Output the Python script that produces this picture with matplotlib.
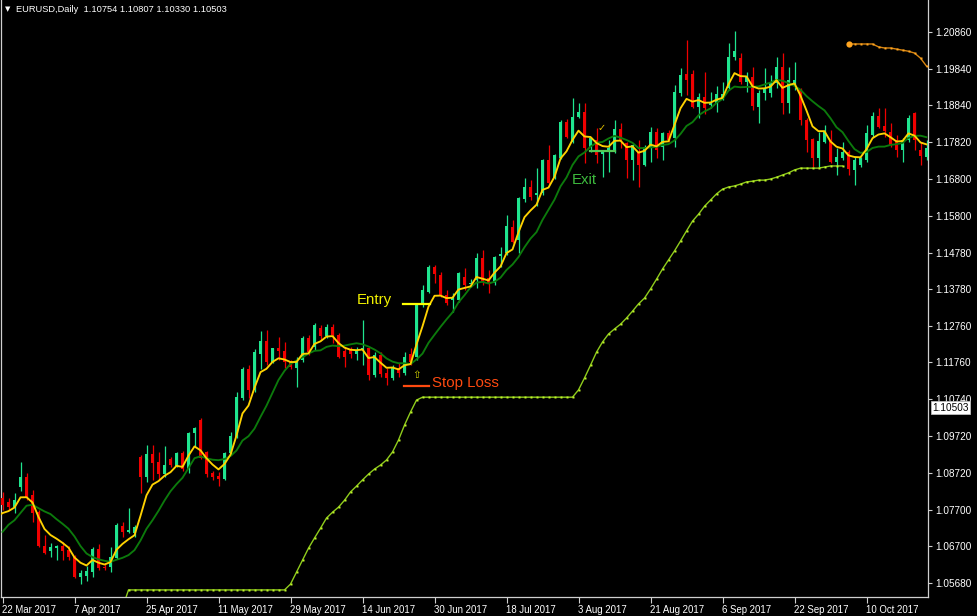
import numpy as np
import pandas as pd
import matplotlib
matplotlib.use("Agg")
import matplotlib.pyplot as plt
from matplotlib.patches import Rectangle
from matplotlib.collections import PatchCollection, LineCollection
import matplotlib.transforms as mtransforms

# ---------------- data ----------------
chart_title = "EURUSD,Daily"
last_bar_values = ["1.10754", "1.10807", "1.10330", "1.10503"]
last_price = 1.10503
start_date = "2017-03-22"

open_ = [1.0802, 1.0791, 1.0777, 1.0832, 1.0860, 1.0810, 1.0763, 1.0670, 1.0656, 1.0664,
         1.0670, 1.0659, 1.0639, 1.0584, 1.0587, 1.0598, 1.0662, 1.0612, 1.0612, 1.0637,
         1.0725, 1.0708, 1.0706, 1.0915, 1.0860, 1.0923, 1.0901, 1.0868, 1.0909, 1.0890,
         1.0926, 1.0882, 1.0981, 1.1017, 1.0929, 1.0871, 1.0863, 1.0854, 1.0926, 1.0970,
         1.1077, 1.1157, 1.1100, 1.1200, 1.1235, 1.1177, 1.1215, 1.1207, 1.1177, 1.1160,
         1.1182, 1.1243, 1.1218, 1.1270, 1.1248, 1.1273, 1.1251, 1.1207, 1.1210, 1.1199,
         1.1213, 1.1215, 1.1141, 1.1196, 1.1146, 1.1133, 1.1160, 1.1146, 1.1199, 1.1191,
         1.1334, 1.1370, 1.1438, 1.1416, 1.1361, 1.1348, 1.1348, 1.1411, 1.1392, 1.1403,
         1.1463, 1.1408, 1.1394, 1.1469, 1.1477, 1.1549, 1.1513, 1.1626, 1.1659, 1.1637,
         1.1642, 1.1733, 1.1684, 1.1739, 1.1838, 1.1783, 1.1852, 1.1865, 1.1769, 1.1788,
         1.1750, 1.1755, 1.1755, 1.1819, 1.1780, 1.1733, 1.1755, 1.1719, 1.1769, 1.1810,
         1.1769, 1.1808, 1.1794, 1.1918, 1.1970, 1.1970, 1.1879, 1.1907, 1.1885, 1.1890,
         1.1904, 1.1932, 1.2017, 1.2014, 1.1948, 1.1962, 1.1879, 1.1918, 1.1918, 1.1945,
         1.1989, 1.1890, 1.1940, 1.1926, 1.1843, 1.1791, 1.1739, 1.1783, 1.1788, 1.1728,
         1.1739, 1.1755, 1.1706, 1.1719, 1.1733, 1.1802, 1.1854, 1.1827, 1.1810, 1.1788,
         1.1761, 1.1788, 1.1863, 1.1761, 1.1741]
high = [1.0819, 1.0802, 1.0816, 1.0901, 1.0871, 1.0824, 1.0769, 1.0700, 1.0678, 1.0673,
        1.0681, 1.0670, 1.0645, 1.0604, 1.0615, 1.0667, 1.0675, 1.0623, 1.0667, 1.0733,
        1.0736, 1.0775, 1.0728, 1.0921, 1.0948, 1.0948, 1.0929, 1.0945, 1.0915, 1.0929,
        1.0932, 1.0984, 1.0998, 1.1022, 1.0932, 1.0876, 1.0874, 1.0929, 1.0984, 1.1094,
        1.1163, 1.1168, 1.1213, 1.1262, 1.1265, 1.1215, 1.1246, 1.1232, 1.1182, 1.1191,
        1.1248, 1.1251, 1.1284, 1.1279, 1.1281, 1.1281, 1.1257, 1.1218, 1.1218, 1.1218,
        1.1292, 1.1218, 1.1204, 1.1204, 1.1160, 1.1168, 1.1174, 1.1204, 1.1215, 1.1339,
        1.1389, 1.1444, 1.1444, 1.1425, 1.1375, 1.1367, 1.1425, 1.1436, 1.1405, 1.1477,
        1.1485, 1.1430, 1.1469, 1.1494, 1.1582, 1.1568, 1.1631, 1.1684, 1.1678, 1.1711,
        1.1736, 1.1775, 1.1750, 1.1843, 1.1846, 1.1904, 1.1890, 1.1890, 1.1797, 1.1821,
        1.1761, 1.1788, 1.1843, 1.1835, 1.1783, 1.1778, 1.1788, 1.1775, 1.1824, 1.1821,
        1.1811, 1.1816, 1.1940, 1.1987, 1.2064, 1.1981, 1.1918, 1.1976, 1.1921, 1.1937,
        1.1948, 1.2056, 1.2089, 1.2028, 1.1976, 1.1989, 1.1926, 1.1987, 1.1967, 1.2017,
        1.2028, 1.1989, 1.2003, 1.1932, 1.1849, 1.1794, 1.1810, 1.1830, 1.1816, 1.1766,
        1.1783, 1.1761, 1.1741, 1.1741, 1.1830, 1.1865, 1.1876, 1.1876, 1.1835, 1.1802,
        1.1794, 1.1857, 1.1865, 1.1783, 1.1788]
low = [1.0769, 1.0769, 1.0761, 1.0821, 1.0796, 1.0736, 1.0667, 1.0648, 1.0639, 1.0631,
       1.0631, 1.0631, 1.0582, 1.0565, 1.0573, 1.0584, 1.0604, 1.0604, 1.0598, 1.0634,
       1.0695, 1.0706, 1.0695, 1.0816, 1.0846, 1.0852, 1.0852, 1.0860, 1.0887, 1.0887,
       1.0876, 1.0871, 1.0943, 1.0909, 1.0860, 1.0852, 1.0835, 1.0852, 1.0921, 1.0967,
       1.1072, 1.1077, 1.1094, 1.1157, 1.1168, 1.1174, 1.1182, 1.1160, 1.1157, 1.1108,
       1.1177, 1.1196, 1.1210, 1.1237, 1.1243, 1.1229, 1.1188, 1.1163, 1.1188, 1.1182,
       1.1168, 1.1127, 1.1135, 1.1135, 1.1113, 1.1127, 1.1135, 1.1141, 1.1168, 1.1182,
       1.1328, 1.1367, 1.1394, 1.1356, 1.1334, 1.1314, 1.1342, 1.1375, 1.1383, 1.1381,
       1.1389, 1.1367, 1.1389, 1.1438, 1.1471, 1.1505, 1.1477, 1.1618, 1.1623, 1.1607,
       1.1637, 1.1667, 1.1681, 1.1736, 1.1794, 1.1780, 1.1849, 1.1725, 1.1755, 1.1725,
       1.1686, 1.1700, 1.1752, 1.1766, 1.1684, 1.1678, 1.1659, 1.1717, 1.1728, 1.1739,
       1.1733, 1.1783, 1.1769, 1.1910, 1.1912, 1.1876, 1.1849, 1.1860, 1.1876, 1.1865,
       1.1898, 1.1926, 1.2009, 1.1943, 1.1921, 1.1871, 1.1835, 1.1898, 1.1907, 1.1932,
       1.1860, 1.1863, 1.1926, 1.1830, 1.1755, 1.1714, 1.1714, 1.1780, 1.1725, 1.1692,
       1.1733, 1.1692, 1.1664, 1.1714, 1.1728, 1.1797, 1.1821, 1.1797, 1.1769, 1.1741,
       1.1728, 1.1783, 1.1761, 1.1719, 1.1733]
close = [1.0783, 1.0777, 1.0796, 1.0860, 1.0805, 1.0761, 1.0670, 1.0651, 1.0667, 1.0670,
         1.0656, 1.0639, 1.0584, 1.0595, 1.0601, 1.0662, 1.0609, 1.0609, 1.0639, 1.0728,
         1.0708, 1.0714, 1.0722, 1.0860, 1.0923, 1.0898, 1.0868, 1.0893, 1.0893, 1.0926,
         1.0882, 1.0981, 1.0995, 1.0912, 1.0868, 1.0860, 1.0854, 1.0926, 1.0973, 1.1080,
         1.1157, 1.1100, 1.1204, 1.1235, 1.1177, 1.1215, 1.1207, 1.1177, 1.1163, 1.1177,
         1.1243, 1.1204, 1.1279, 1.1248, 1.1273, 1.1251, 1.1191, 1.1191, 1.1199, 1.1207,
         1.1215, 1.1141, 1.1196, 1.1144, 1.1133, 1.1163, 1.1146, 1.1191, 1.1177, 1.1334,
         1.1375, 1.1438, 1.1419, 1.1361, 1.1339, 1.1356, 1.1422, 1.1389, 1.1394, 1.1463,
         1.1397, 1.1392, 1.1466, 1.1474, 1.1551, 1.1507, 1.1629, 1.1659, 1.1631, 1.1642,
         1.1733, 1.1670, 1.1747, 1.1838, 1.1797, 1.1852, 1.1865, 1.1766, 1.1794, 1.1747,
         1.1755, 1.1766, 1.1819, 1.1788, 1.1733, 1.1775, 1.1719, 1.1769, 1.1810, 1.1761,
         1.1808, 1.1788, 1.1921, 1.1967, 1.1954, 1.1879, 1.1907, 1.1876, 1.1893, 1.1915,
         1.1915, 1.2017, 1.2034, 1.1948, 1.1962, 1.1882, 1.1918, 1.1932, 1.1945, 1.1989,
         1.1890, 1.1954, 1.1954, 1.1843, 1.1788, 1.1739, 1.1786, 1.1813, 1.1728, 1.1741,
         1.1755, 1.1708, 1.1733, 1.1739, 1.1808, 1.1854, 1.1824, 1.1813, 1.1775, 1.1761,
         1.1788, 1.1849, 1.1788, 1.1744, 1.1766]
# closes of the days before the first visible bar (feed the moving averages)
prior_closes = [1.0580, 1.0671, 1.0660, 1.0605, 1.0734, 1.0765, 1.0740, 1.0740, 1.0810]

# trailing stop (long side), first value belongs to bar 20
trail_long_first_bar = 20
trail_long = [1.0500,
              1.0549, 1.0549, 1.0549, 1.0549, 1.0549, 1.0549, 1.0549, 1.0549, 1.0549, 1.0549,
              1.0549, 1.0549, 1.0549, 1.0549, 1.0549, 1.0549, 1.0549, 1.0549, 1.0549, 1.0549,
              1.0549, 1.0549, 1.0549, 1.0549, 1.0549, 1.0549, 1.0549,
              1.0565, 1.0598, 1.0631, 1.0664, 1.0692, 1.0719, 1.0747, 1.0763, 1.0777, 1.0796,
              1.0819, 1.0835, 1.0852, 1.0868, 1.0882, 1.0893, 1.0907, 1.0929, 1.0962, 1.1003,
              1.1039, 1.1072,
              1.1080, 1.1080, 1.1080, 1.1080, 1.1080, 1.1080, 1.1080, 1.1080, 1.1080, 1.1080,
              1.1080, 1.1080, 1.1080, 1.1080, 1.1080, 1.1080, 1.1080, 1.1080, 1.1080, 1.1080,
              1.1080, 1.1080, 1.1080, 1.1080, 1.1080, 1.1080,
              1.1100, 1.1133, 1.1168, 1.1204, 1.1232, 1.1254, 1.1268, 1.1281, 1.1298, 1.1317,
              1.1337, 1.1353, 1.1378, 1.1405, 1.1433, 1.1458, 1.1483, 1.1510, 1.1538, 1.1565,
              1.1584, 1.1606, 1.1623, 1.1640, 1.1653, 1.1659, 1.1662, 1.1667, 1.1673, 1.1675,
              1.1678, 1.1678, 1.1681, 1.1686, 1.1692, 1.1698, 1.1706, 1.1711, 1.1711, 1.1711,
              1.1711, 1.1714, 1.1717, 1.1717, 1.1717]
# trailing stop (short side), first value belongs to bar 141
trail_short_first_bar = 141
trail_short = [1.2053, 1.2053, 1.2053, 1.2053, 1.2053, 1.2045, 1.2042, 1.2042, 1.2039,
               1.2036, 1.2033, 1.2028, 1.2014, 1.1992]

price_ticks = [1.20860, 1.19840, 1.18840, 1.17820, 1.16800, 1.15800, 1.14780, 1.13780,
               1.12760, 1.11760, 1.10740, 1.09720, 1.08720, 1.07700, 1.06700, 1.05680]
date_ticks = ["2017-03-22", "2017-04-07", "2017-04-25", "2017-05-11", "2017-05-29",
              "2017-06-14", "2017-06-30", "2017-07-18", "2017-08-03", "2017-08-21",
              "2017-09-06", "2017-09-22", "2017-10-10"]

# trade annotations (bar index, price)
entry_price, entry_bars = 1.1337, (66.75, 71.25)
stop_price, stop_bars = 1.1111, (66.9, 71.1)
exit_price, exit_bars = 1.1758, (97.9, 102.1)

fast_period = 5
slow_period = 10

# ---------------- figure ----------------
W, H = 977, 616
fig = plt.figure(figsize=(W / 100, H / 100), dpi=100, facecolor="black")
ax_l, ax_r, ax_top, ax_bot = 1, 928, 0, 597
ax = fig.add_axes([ax_l / W, (H - ax_bot) / H, (ax_r - ax_l) / W, (ax_bot - ax_top) / H])
ax.set_facecolor("black")

n = len(close)
xs = np.arange(n)
px_per_bar = 6.0
ax.set_xlim(-0.25, -0.25 + (ax_r - ax_l) / px_per_bar)
ax.set_ylim(1.05295, 1.21742)
price_per_px = (1.21742 - 1.05295) / (ax_bot - ax_top)

bull, bear = "#1fe58f", "#f00000"
o = np.array(open_); c = np.array(close); hi = np.array(high); lo = np.array(low)
colors = [bull if cc >= oo else bear for oo, cc in zip(o, c)]

segs = [[(x, l), (x, h)] for x, l, h in zip(xs, lo, hi)]
ax.add_collection(LineCollection(segs, colors=colors, linewidths=0.9, zorder=2))
rects = []
bw = 0.62
for x, oo, cc in zip(xs, o, c):
    bot = min(oo, cc)
    hgt = max(abs(cc - oo), price_per_px)
    rects.append(Rectangle((x - bw / 2, bot), bw, hgt))
ax.add_collection(PatchCollection(rects, facecolors=colors, edgecolors="none",
                                  antialiased=False, zorder=3))

# moving averages
all_close = np.array(prior_closes + close)
alpha = 2.0 / (fast_period + 1)
ema = np.empty_like(all_close)
ema[0] = all_close[0]
for k in range(1, len(all_close)):
    ema[k] = ema[k - 1] + alpha * (all_close[k] - ema[k - 1])
sma = pd.Series(all_close).rolling(slow_period).mean().values
xa = np.arange(-len(prior_closes), n)
ax.plot(xa, sma, color="#0c7a0c", lw=1.35, zorder=4)
ax.plot(xa, ema, color="#ffd200", lw=1.35, zorder=5)

# trailing stops
xl = np.arange(trail_long_first_bar, trail_long_first_bar + len(trail_long))
ax.plot(xl, trail_long, color="#8fcc1c", lw=1.0, zorder=4)
ax.plot(xl, trail_long, ls="none", marker="s", ms=2.0, mfc="#bff22a", mec="none", zorder=4)
xsh = np.arange(trail_short_first_bar, trail_short_first_bar + len(trail_short))
ax.plot(xsh, trail_short, color="#d98612", lw=1.0, zorder=4)
ax.plot(xsh, trail_short, ls="none", marker="s", ms=2.0, mfc="#ffa520", mec="none", zorder=4)
ax.plot(xsh[:1], trail_short[:1], ls="none", marker="o", ms=4.5, mfc="#ffa520", mec="none", zorder=4)

# trade annotations
afont = "Liberation Sans"
ax.plot(entry_bars, [entry_price, entry_price], color="#ffff00", lw=1.6, zorder=6)
ax.text(59.1, entry_price + 3.5 * price_per_px, "Entry", color="#f0f000", fontsize=10.8,
        family=afont, ha="left", va="center", zorder=7)
ax.plot(stop_bars, [stop_price, stop_price], color="#ff4a10", lw=1.6, zorder=6)
ax.text(71.6, stop_price + 2.5 * price_per_px, "Stop Loss", color="#ff4a10", fontsize=10.8,
        family=afont, ha="left", va="center", zorder=7)
ax.text(69.0, stop_price + 10.5 * price_per_px, "\u21e7", color="#d8d800", fontsize=7.5,
        family="DejaVu Sans", ha="center", va="center", zorder=7)
ax.plot(exit_bars, [exit_price, exit_price], color="#55c855", lw=1.6, zorder=6)
ax.text(94.9, exit_price - 29 * price_per_px, "Exit", color="#3dba3d", fontsize=10.8,
        family=afont, ha="left", va="center", zorder=7)
ax.text(99.9, exit_price + 23 * price_per_px, "\u2713", color="#e6c400", fontsize=7,
        family="DejaVu Sans", ha="center", va="center", zorder=7)

# axes styling
for s in ["left", "right", "bottom"]:
    ax.spines[s].set_color("#cfcfcf")
    ax.spines[s].set_linewidth(0.9)
ax.spines["top"].set_visible(False)

tfont = "Liberation Sans"
ax.yaxis.tick_right()
ax.set_yticks(price_ticks)
ax.set_yticklabels([f"{p:.5f}" for p in price_ticks])
ax.tick_params(axis="y", colors="#cfcfcf", length=3, width=0.8, pad=2,
               labelsize=7.2, labelcolor="white")
for lab in ax.get_yticklabels():
    lab.set_family(tfont)

dates = pd.bdate_range(start_date, periods=n)
tick_pos = [dates.get_loc(pd.Timestamp(d)) for d in date_ticks]
tick_lab = [f"{pd.Timestamp(d).day} {pd.Timestamp(d).strftime('%b %Y')}" for d in date_ticks]
ax.set_xticks(tick_pos)
ax.set_xticklabels(tick_lab)
ax.tick_params(axis="x", colors="#cfcfcf", length=4, width=0.8, pad=2,
               labelsize=6.9, labelcolor="white")
for lab in ax.get_xticklabels():
    lab.set_family(tfont)
    lab.set_horizontalalignment("left")

# last price marker on the scale
trans = mtransforms.blended_transform_factory(ax.transAxes, ax.transData)
ax.annotate(f"{last_price:.5f}", xy=(1.0, last_price), xycoords=trans,
            xytext=(3, 0), textcoords="offset points", ha="left", va="center",
            fontsize=7.2, family=tfont, color="black", zorder=20, annotation_clip=False,
            bbox=dict(boxstyle="square,pad=0.15", fc="white", ec="#bdbdbd", lw=0.6))

# title
fig.text(5 / W, 1 - 9 / H, "\u25bc", color="white", fontsize=5, family="DejaVu Sans",
         ha="left", va="center")
fig.text(16 / W, 1 - 9 / H, chart_title + "  " + " ".join(last_bar_values), color="white",
         fontsize=6.7, family=tfont, ha="left", va="center")

fig.savefig("out.png", dpi=100, facecolor="black")
